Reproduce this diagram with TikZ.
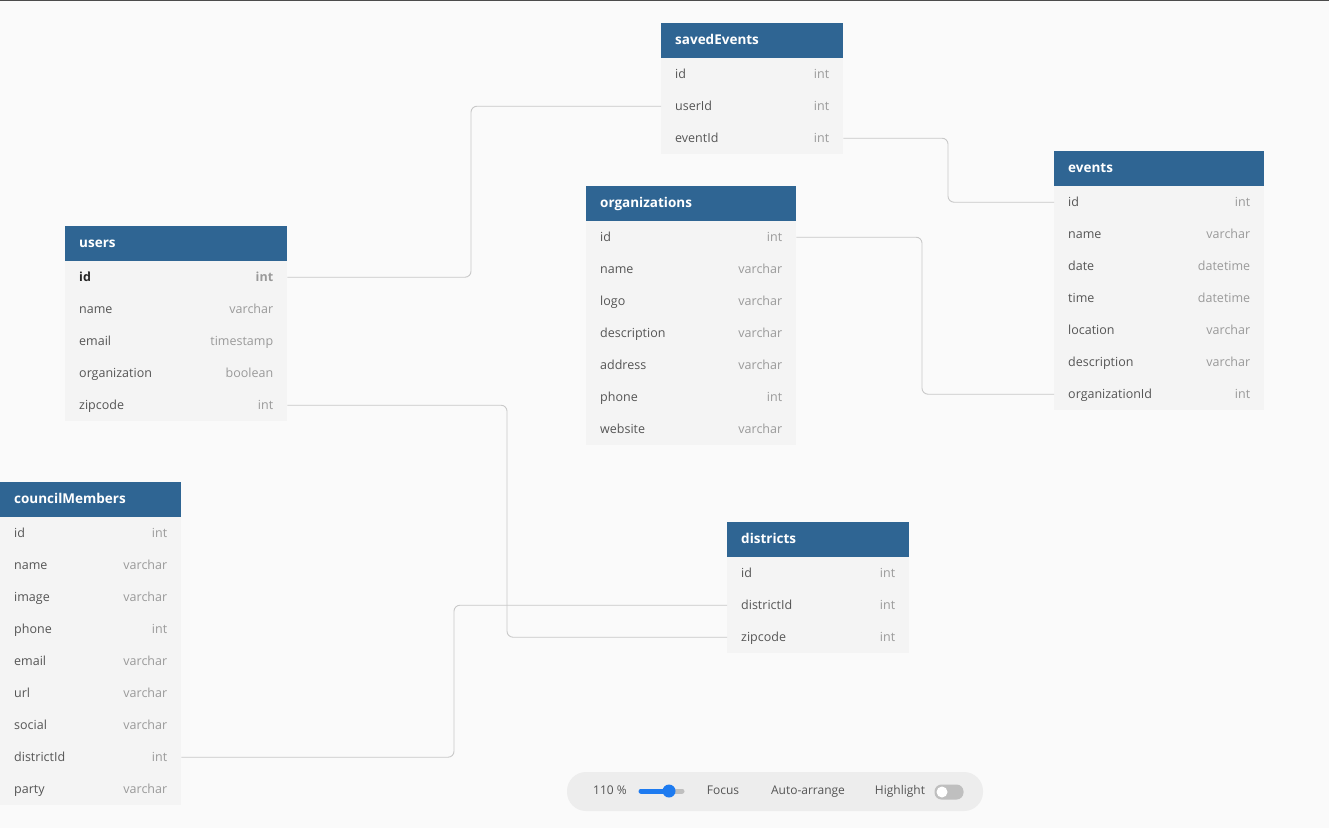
\documentclass[tikz,border=0pt]{standalone}
\usepackage{fontspec}
\setmainfont{Open Sans}
\definecolor{hdr}{HTML}{2F6593}
\definecolor{rowbg}{HTML}{F4F4F4}
\definecolor{nm}{HTML}{555555}
\definecolor{ty}{HTML}{9A9A9A}
\definecolor{bg}{HTML}{FAFAFA}
\definecolor{lnk}{HTML}{C8C8C8}
\definecolor{slider}{HTML}{1E7BF0}
\tikzset{
 hdrbox/.style={fill=hdr,draw=none,inner sep=0pt,anchor=north west},
 rowbox/.style={fill=rowbg,draw=none,inner sep=0pt,anchor=north west,minimum height=32pt},
 nmtext/.style={text=nm,font=\fontsize{12.5}{14}\selectfont,anchor=west,inner sep=0pt,text height=9pt,text depth=3pt},
 tytext/.style={text=ty,font=\fontsize{12.5}{14}\selectfont,anchor=east,inner sep=0pt,text height=9pt,text depth=3pt},
 hdtext/.style={text=white,font=\fontsize{13.5}{15}\selectfont\bfseries,anchor=west,inner sep=0pt,text height=9.5pt,text depth=3pt},
 link/.style={draw=lnk,line width=0.9pt,rounded corners=6pt},
 ui/.style={text=nm,font=\fontsize{12}{14}\selectfont,inner sep=0pt,text height=9pt,text depth=3pt}
}
\newcommand{\dbtable}[5]{% id, x, y(top), width, title ; rows from \rowlist
 \node[hdrbox,minimum width=#4pt,minimum height=35pt] (#1) at (#2pt,-#3pt) {};
 \node[hdtext] (#1-title) at ([xshift=14pt,yshift=-1pt]#1.west) {#5};
 \foreach \n/\t [count=\i] in \rowlist {
  \pgfmathsetmacro{\yy}{#3+35+32*(\i-1)}
  \node[rowbox,minimum width=#4pt] (#1-\n) at (#2pt,-\yy pt) {};
  \node[nmtext] at ([xshift=14pt,yshift=-1pt]#1-\n.west) {\n};
  \node[tytext] at ([xshift=-14pt,yshift=-1pt]#1-\n.east) {\t};
 }
}
\begin{document}
\begin{tikzpicture}[x=1pt,y=1pt]
\fill[bg] (0,0) rectangle (1329,-828);
\useasboundingbox (0,0) rectangle (1329,-828);
\draw[black!70,line width=1.5pt] (0,0) -- (1329,0);

\def\rowlist{id/int,userId/int,eventId/int}
\dbtable{se}{661}{23}{182}{savedEvents}
\def\rowlist{id/int,name/varchar,date/datetime,time/datetime,location/varchar,description/varchar,organizationId/int}
\dbtable{ev}{1054}{151}{210}{events}
\def\rowlist{id/int,name/varchar,logo/varchar,description/varchar,address/varchar,phone/int,website/varchar}
\dbtable{org}{586}{186}{210}{organizations}
\def\rowlist{id/int,name/varchar,email/timestamp,organization/boolean,zipcode/int}
\dbtable{us}{65}{226}{222}{users}
\node[text=black!85,font=\fontsize{12.5}{14}\selectfont\bfseries,anchor=west,inner sep=0pt,fill=rowbg,text height=9pt,text depth=3pt] at ([xshift=14pt,yshift=-1pt]us-id.west) {id};
\node[text=ty,font=\fontsize{12.5}{14}\selectfont\bfseries,anchor=east,inner sep=0pt,fill=rowbg,text height=9pt,text depth=3pt] at ([xshift=-14pt,yshift=-1pt]us-id.east) {int};
\def\rowlist{id/int,name/varchar,image/varchar,phone/int,email/varchar,url/varchar,social/varchar,districtId/int,party/varchar}
\dbtable{cm}{0}{482}{181}{councilMembers}
\def\rowlist{id/int,districtId/int,zipcode/int}
\dbtable{di}{727}{522}{182}{districts}

\draw[link] (us-id.east) -| (471,-190) |- (se-userId.west);
\draw[link] (se-eventId.east) -| (948,-170) |- (ev-id.west);
\draw[link] (org-id.east) -| (922,-300) |- (ev-organizationId.west);
\draw[link] (us-zipcode.east) -| (507,-520) |- (di-zipcode.west);
\draw[link] (cm-districtId.east) -| (454,-680) |- (di-districtId.west);

% toolbar
\node[fill=black!7,rounded corners=19pt,minimum width=416pt,minimum height=39pt,inner sep=0pt] (bar) at (775,-791.5) {};
\node[ui] (zoom) at (610,-791) {110 \%};
\draw[line width=5pt,line cap=round,color=slider] (641,-791) -- (669,-791);
\draw[line width=5pt,line cap=round,color=black!25] (669,-791) -- (682,-791);
\node[circle,fill=slider,minimum size=13pt,inner sep=0pt] (knob) at (669,-791) {};
\node[ui] (focus) at (723,-791) {Focus};
\node[ui] (auto) at (808,-791) {Auto-arrange};
\node[ui] (hl) at (900,-791) {Highlight};
\node[fill=black!25,rounded corners=7pt,minimum width=29pt,minimum height=15pt,inner sep=0pt] (tog) at (949,-792) {};
\node[circle,fill=white,minimum size=11pt,inner sep=0pt] (togk) at (942,-792) {};
\end{tikzpicture}
\end{document}
